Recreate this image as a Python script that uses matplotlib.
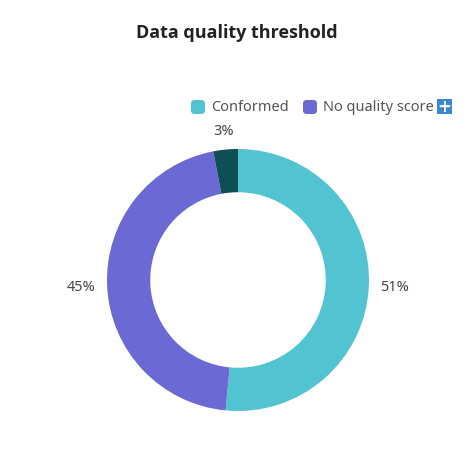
import matplotlib
matplotlib.use("Agg")
import matplotlib.pyplot as plt
from matplotlib.patches import FancyBboxPatch
import numpy as np

labels = ["Conformed", "No quality score", "Other"]
values = [51, 45, 3]
colors = ["#52c3d0", "#6b69d3", "#0f4e55"]
pct_labels = ["51%", "45%", "3%"]

fig = plt.figure(figsize=(4.74, 4.66), dpi=100)
fig.text(0.5, 1 - 33/466, "Data quality threshold", ha="center", va="center",
         fontsize=13, fontweight="bold", color="#222222", family="Open Sans")

ax = fig.add_axes([238/474 - 131/474, 1 - (280+131)/466, 262/474, 262/466])
wedges, _ = ax.pie(values, colors=colors, startangle=90, counterclock=False, radius=1,
                   wedgeprops=dict(width=0.33, edgecolor="none"))
ax.set_xlim(-1, 1); ax.set_ylim(-1, 1)
ax.set_aspect("equal")
total = sum(values)
ang = 90
for v, t in zip(values, pct_labels):
    mid = ang - v/total*360/2
    ang -= v/total*360
    r = 1.2 if v > 10 else 1.14
    ax.text(r*np.cos(np.radians(mid)), r*np.sin(np.radians(mid)), t, ha="center", va="center",
            fontsize=10.5, color="#444444", family="Noto Sans", clip_on=False)

def px(x, y):
    return x/474, 1 - y/466
for (x, lab, col) in [(191, "Conformed", colors[0]), (303, "No quality score", colors[1])]:
    fx, fy = px(x, 114)
    fig.patches.append(FancyBboxPatch((fx, fy), 14/474, 14/466, boxstyle="round,pad=0,rounding_size=0.008",
                                      transform=fig.transFigure, facecolor=col, edgecolor="none"))
    fig.text(fx + 20/474, fy + 7/466, lab, ha="left", va="center", fontsize=10.5,
             color="#555555", family="Noto Sans")
fx, fy = px(437, 114)
fig.patches.append(plt.Rectangle((fx, fy), 15/474, 15/466, transform=fig.transFigure,
                                 facecolor="#3b86d6", edgecolor="none"))
fig.text(fx + 7.5/474, fy + 7.5/466, "+", ha="center", va="center", fontsize=12,
         color="white", fontweight="bold")
fig.savefig("out.png", dpi=100)
